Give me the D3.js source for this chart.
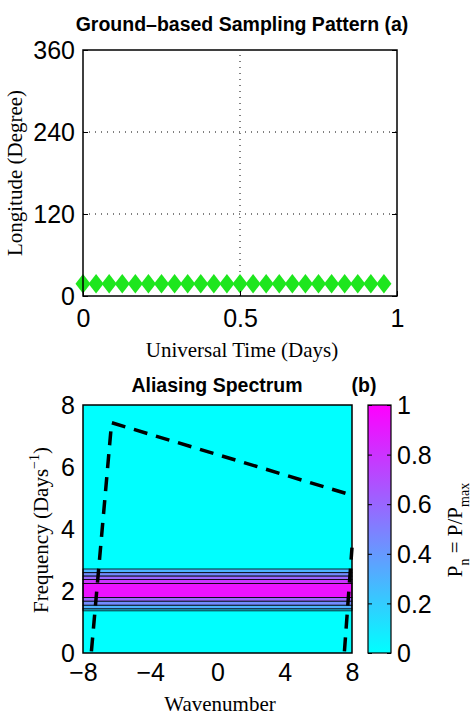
<!DOCTYPE html><html><head><meta charset="utf-8">
<script src="https://cdn.jsdelivr.net/npm/d3@7"></script>
<style>body{margin:0;background:#fff}</style></head><body>
<script>
const sampleTimes = d3.range(24).map(i => i/24);
const sampleLon = sampleTimes.map(() => 18);
const lonTicks = [0,120,240,360];
const timeTicks = [0,0.5,1];
const bandEdges = [2.71,2.59,2.48,2.37,2.24,1.79,1.67,1.54,1.42,1.36];
const bandValues = [0.3,0.45,0.6,0.8,0.93,0.6,0.45,0.3,0.15];
const dashLeft = [[-7.5,0.05],[-6.3,7.43],[8,5.09]];
const dashRight = [[7.55,0.05],[8,3.4]];
const waveTicks = [-8,-4,0,4,8];
const freqTicks = [0,2,4,6,8];
const cbTicks = [0,0.2,0.4,0.6,0.8,1];

const svg = d3.select("body").append("svg").attr("width",474).attr("height",717);
const cool = v => `rgb(${Math.round(255*v)},${Math.round(255*(1-v))},255)`;
const sans = "Liberation Sans, Arial, sans-serif", serif = "Liberation Serif, Times New Roman, serif";
const TF = 25, LF = 21;

// Panel (a)
const xa = d3.scaleLinear().domain([0,1]).range([83,397]);
const ya = d3.scaleLinear().domain([0,360]).range([296,50]);
svg.append("text").attr("x",242).attr("y",31).attr("text-anchor","middle").attr("font-family",sans).attr("font-weight","bold").attr("font-size",19.5).text("Ground\u2013based Sampling Pattern  (a)");
const ga = svg.append("g");
[120,240].forEach(t=>ga.append("line").attr("x1",xa(0)).attr("x2",xa(1)).attr("y1",ya(t)).attr("y2",ya(t)).attr("stroke","#000").attr("stroke-width",1).attr("stroke-dasharray","1,5"));
ga.append("line").attr("x1",xa(0.5)).attr("x2",xa(0.5)).attr("y1",ya(0)).attr("y2",ya(360)).attr("stroke","#000").attr("stroke-dasharray","1,5");
ga.selectAll("path.m").data(sampleTimes).join("path").attr("d",d3.symbol(d3.symbolDiamond2,200)).attr("transform",(d,i)=>`translate(${xa(d)},${ya(sampleLon[i])}) scale(0.85,1.1)`).attr("fill","#1ee61e");
ga.append("rect").attr("x",83).attr("y",50).attr("width",314).attr("height",246).attr("fill","none").attr("stroke","#000").attr("stroke-width",1.5);
ga.append("g").attr("transform","translate(0,296)").call(d3.axisBottom(xa).tickValues(timeTicks).tickFormat(d3.format("")).tickSize(-5).tickPadding(13)).call(g=>{g.select(".domain").remove();g.selectAll("text").attr("font-family",sans).attr("font-size",TF).attr("fill","#000");});
ga.append("g").attr("transform","translate(83,0)").call(d3.axisLeft(ya).tickValues(lonTicks).tickSize(-5).tickPadding(8)).call(g=>{g.select(".domain").remove();g.selectAll("text").attr("font-family",sans).attr("font-size",TF).attr("fill","#000").attr("dy","0.35em");});
ga.append("g").attr("transform","translate(397,0)").call(d3.axisRight(ya).tickValues(lonTicks).tickSize(-5).tickFormat("")).select(".domain").remove();
svg.append("text").attr("x",242).attr("y",357).attr("text-anchor","middle").attr("font-family",serif).attr("font-size",LF).text("Universal Time (Days)");
svg.append("text").attr("transform","translate(22,173) rotate(-90)").attr("text-anchor","middle").attr("font-family",serif).attr("font-size",LF).text("Longitude (Degree)");

// Panel (b)
const xb = d3.scaleLinear().domain([-8,8]).range([83,352]);
const yb = d3.scaleLinear().domain([0,8]).range([653,405]);
svg.append("text").attr("x",217).attr("y",392).attr("text-anchor","middle").attr("font-family",sans).attr("font-weight","bold").attr("font-size",19.5).text("Aliasing Spectrum");
svg.append("text").attr("x",364).attr("y",392).attr("text-anchor","middle").attr("font-family",sans).attr("font-weight","bold").attr("font-size",19.5).text("(b)");
const gb = svg.append("g");
gb.append("rect").attr("x",83).attr("y",405).attr("width",269).attr("height",248).attr("fill",cool(0));
bandValues.forEach((v,i)=>gb.append("rect").attr("x",xb(-8)).attr("width",xb(8)-xb(-8)).attr("y",yb(bandEdges[i])).attr("height",yb(bandEdges[i+1])-yb(bandEdges[i])).attr("fill",cool(v)).attr("stroke","#000").attr("stroke-width",0.8));
const line = d3.line().x(d=>xb(d[0])).y(d=>yb(d[1]));
[dashLeft,dashRight].forEach(d=>gb.append("path").attr("d",line(d)).attr("fill","none").attr("stroke","#000").attr("stroke-width",3.5).attr("stroke-dasharray","14,9"));
gb.append("rect").attr("x",83).attr("y",405).attr("width",269).attr("height",248).attr("fill","none").attr("stroke","#000").attr("stroke-width",1.5);
gb.append("g").attr("transform","translate(0,653)").call(d3.axisBottom(xb).tickValues(waveTicks).tickFormat(d=>d<0?"\u2212"+(-d):d).tickSize(0).tickPadding(10)).call(g=>{g.select(".domain").remove();g.selectAll("text").attr("font-family",sans).attr("font-size",TF).attr("fill","#000");});
gb.append("g").attr("transform","translate(83,0)").call(d3.axisLeft(yb).tickValues(freqTicks).tickSize(0).tickPadding(8)).call(g=>{g.select(".domain").remove();g.selectAll("text").attr("font-family",sans).attr("font-size",TF).attr("fill","#000").attr("dy","0.35em");});
svg.append("text").attr("x",220).attr("y",711).attr("text-anchor","middle").attr("font-family",serif).attr("font-size",LF).text("Wavenumber");
const yl = svg.append("text").attr("transform","translate(48,530) rotate(-90)").attr("text-anchor","middle").attr("font-family",serif).attr("font-size",LF);
yl.append("tspan").text("Frequency (Days");
yl.append("tspan").attr("dy",-9).attr("font-size",14).text("\u22121");
yl.append("tspan").attr("dy",9).text(")");

// Colorbar
const yc = d3.scaleLinear().domain([0,1]).range([653,405]);
const defs = svg.append("defs");
const gr = defs.append("linearGradient").attr("id","cg").attr("x1",0).attr("y1",1).attr("x2",0).attr("y2",0);
gr.append("stop").attr("offset",0).attr("stop-color",cool(0));
gr.append("stop").attr("offset",1).attr("stop-color",cool(1));
svg.append("rect").attr("x",368).attr("y",405).attr("width",23).attr("height",248).attr("fill","url(#cg)").attr("stroke","#000").attr("stroke-width",1.2);
svg.append("g").attr("transform","translate(391,0)").call(d3.axisRight(yc).tickValues(cbTicks).tickFormat(d=>d).tickSize(-4).tickPadding(6)).call(g=>{g.select(".domain").remove();g.selectAll("text").attr("font-family",sans).attr("font-size",TF).attr("fill","#000").attr("dy","0.35em");});
svg.append("g").attr("transform","translate(368,0)").call(d3.axisLeft(yc).tickValues(cbTicks).tickSize(-4).tickFormat("")).select(".domain").remove();
const cl = svg.append("text").attr("transform","translate(462,530) rotate(-90)").attr("text-anchor","middle").attr("font-family",serif).attr("font-size",LF);
cl.append("tspan").text("P");
cl.append("tspan").attr("dy",7).attr("font-size",14).text("n");
cl.append("tspan").attr("dy",-7).text(" = P/P");
cl.append("tspan").attr("dy",7).attr("font-size",14).text("max");
</script></body></html>
